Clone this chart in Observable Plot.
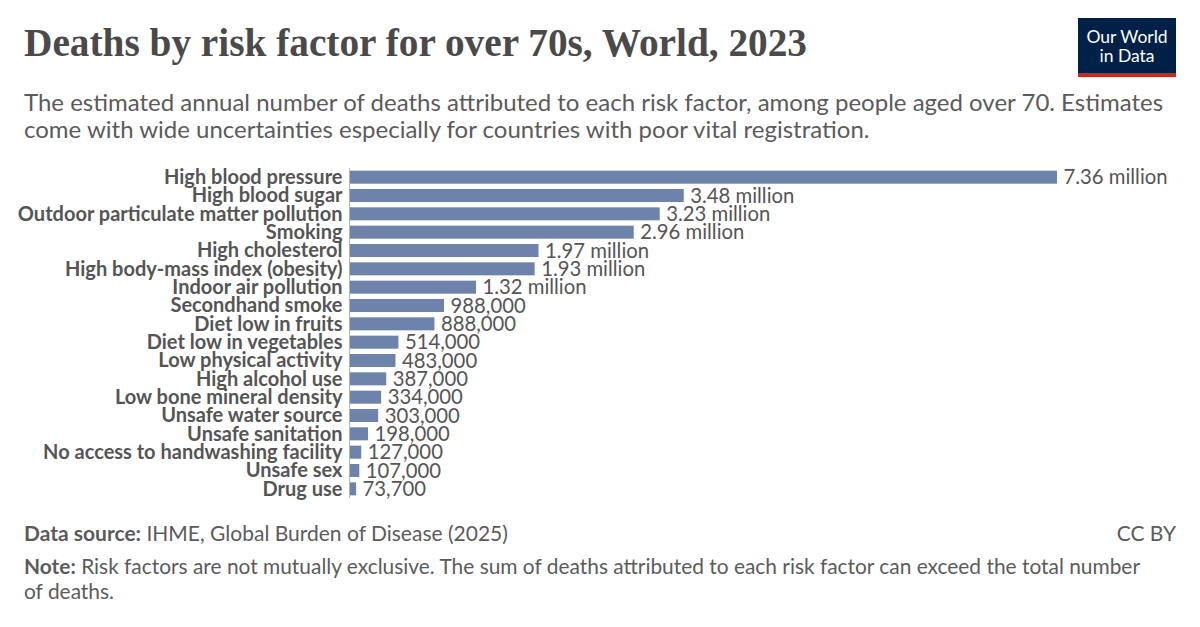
<!DOCTYPE html>
<html><head><meta charset="utf-8">
<script src="https://cdn.jsdelivr.net/npm/d3@7"></script>
<script src="https://cdn.jsdelivr.net/npm/@observablehq/plot@0.6"></script>
<style>
body{margin:0;background:#fff;font-family:Lato,"Noto Sans",sans-serif;width:1200px;height:627px;overflow:hidden;position:relative}
#title{position:absolute;left:24px;top:20px;font-family:"Liberation Serif","DejaVu Serif",serif;font-size:39.3px;font-weight:700;color:#4a4a4a}
#sub{position:absolute;left:24px;top:88px;width:1160px;font-size:24px;line-height:27px;color:#5b5b5b}
#logo{position:absolute;left:1078px;top:18px;width:98px;height:59px;background:#002147;border-bottom:4px solid #ce261e;box-sizing:border-box;color:#fff;font-size:17.5px;line-height:19px;text-align:center;padding-top:9px;font-family:Lato,sans-serif}
#chart{position:absolute;left:0;top:160px}
#src{position:absolute;left:24px;top:520px;font-size:21px;color:#5b5b5b}
#cc{position:absolute;right:24px;top:520px;font-size:21px;color:#5b5b5b}
#note{position:absolute;left:24px;top:553px;width:1118px;font-size:20.9px;line-height:25px;color:#5b5b5b}
b{font-weight:700}
</style></head><body>
<div id="title">Deaths by risk factor for over 70s, World, 2023</div>
<div id="sub">The estimated annual number of deaths attributed to each risk factor, among people aged over 70. Estimates come with wide uncertainties especially for countries with poor vital registration.</div>
<div id="logo">Our World<br>in Data</div>
<div id="chart"></div>
<div id="src"><b>Data source:</b> IHME, Global Burden of Disease (2025)</div>
<div id="cc">CC BY</div>
<div id="note"><b>Note:</b> Risk factors are not mutually exclusive. The sum of deaths attributed to each risk factor can exceed the total number of deaths.</div>
<script>
const factors = ["High blood pressure","High blood sugar","Outdoor particulate matter pollution","Smoking","High cholesterol","High body-mass index (obesity)","Indoor air pollution","Secondhand smoke","Diet low in fruits","Diet low in vegetables","Low physical activity","High alcohol use","Low bone mineral density","Unsafe water source","Unsafe sanitation","No access to handwashing facility","Unsafe sex","Drug use"];
const deaths = [7360000,3480000,3230000,2960000,1970000,1930000,1320000,988000,888000,514000,483000,387000,334000,303000,198000,127000,107000,73700];
const labels = ["7.36 million","3.48 million","3.23 million","2.96 million","1.97 million","1.93 million","1.32 million","988,000","888,000","514,000","483,000","387,000","334,000","303,000","198,000","127,000","107,000","73,700"];
const data = factors.map((f,i)=>({factor:f, value:deaths[i], label:labels[i]}));
const plot = Plot.plot({
  width:1200, height:346,
  marginLeft:349, marginRight:143, marginTop:8, marginBottom:8,
  x:{domain:[0,7360000], axis:null},
  y:{domain:factors, paddingInner:0.29, paddingOuter:0.145, round:false, axis:null},
  style:{fontFamily:"Lato, sans-serif", overflow:"visible"},
  marks:[
    Plot.barX(data,{y:"factor", x:"value", fill:"#6d83ab"}),
    Plot.ruleX([0],{stroke:"#b5b5b5", strokeWidth:1}),
    Plot.text(data,{y:"factor", x:0, text:"factor", textAnchor:"end", dx:-7, fontSize:20, fontWeight:700, fill:"#555"}),
    Plot.text(data,{y:"factor", x:"value", text:"label", textAnchor:"start", dx:6, fontSize:20.3, fill:"#555"})
  ]
});
document.getElementById("chart").appendChild(plot);
</script>
</body></html>
